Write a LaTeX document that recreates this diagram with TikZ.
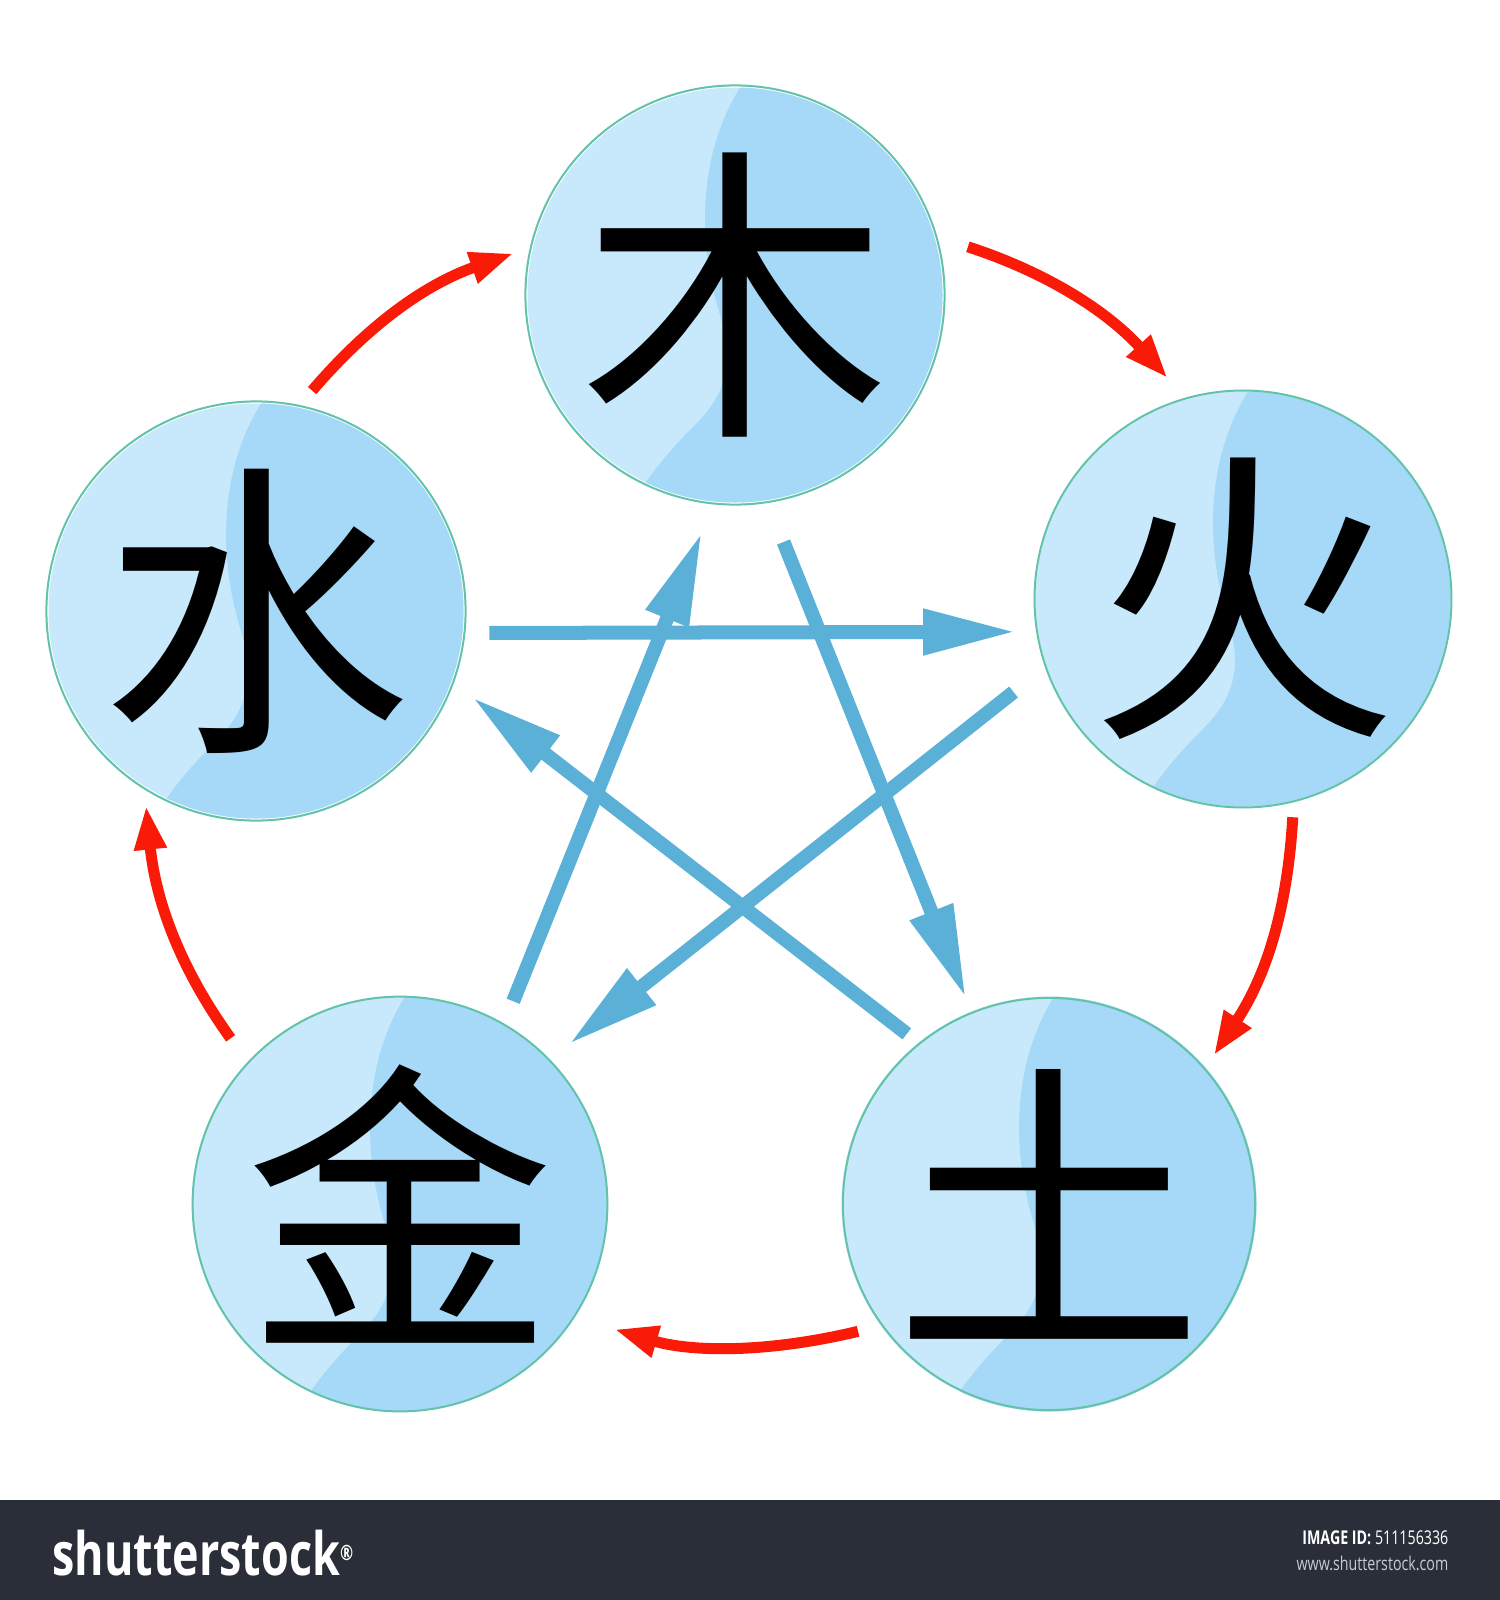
\documentclass[tikz,border=0pt]{standalone}
\usepackage{fontspec}
\newfontfamily\cjk{Noto Sans CJK SC}
\newfontfamily\logofont[FakeStretch=0.75]{Open Sans}
\usetikzlibrary{arrows.meta,backgrounds}
\definecolor{ballface}{RGB}{199,233,251}
\definecolor{ballshade}{RGB}{166,217,247}
\definecolor{ballrim}{RGB}{98,195,170}
\definecolor{feed}{RGB}{250,26,8}
\definecolor{curb}{RGB}{91,176,215}
\definecolor{footbar}{RGB}{41,46,57}
\definecolor{footgray}{RGB}{200,204,210}

\begin{document}
\begin{tikzpicture}[x=0.01cm,y=0.01cm,
  element/.style={circle,draw=ballrim,line width=0.02cm,minimum size=4.12cm,inner sep=0pt,font=\cjk\fontsize{88}{88}\selectfont},
  generate/.style={feed,line width=0.11cm,-{Triangle[length=0.44cm,width=0.3cm]},bend left=15},
  control/.style={curb,line width=0.14cm,-{Triangle[length=0.93cm,width=0.43cm]}}]
\useasboundingbox (0,0) rectangle (1500,-1600);
\node[element] (mu) at (735,-295) {木};
\node[element] (huo) at (1243,-599) {火};
\node[element] (tu) at (1049,-1204) {土};
\node[element] (jin) at (400,-1204) {金};
\node[element] (shui) at (256,-611) {水};
\begin{scope}[on background layer]
\fill[white] (0,0) rectangle (1500,-1600);
\foreach \n in {mu,huo,tu,jin,shui}{
  \fill[ballface] (\n) circle (207.5);
  \begin{scope}
  \clip (\n) circle (207.5);
  \fill[ballshade,shift={(\n)}] (10,215) .. controls (-35,150) and (-40,60) .. (-15,-20)
    .. controls (0,-70) and (-10,-100) .. (-40,-130)
    .. controls (-70,-160) and (-90,-185) .. (-110,-220) -- (220,-220) -- (220,220) -- cycle;
  \end{scope}
}
\end{scope}
% sheng cycle
\draw[generate,shorten <=0.32cm,shorten >=0.26cm] (mu.16) to (huo.106);
\draw[generate,shorten <=0.15cm,shorten >=0.15cm] (huo.-76) to (tu.41);
\draw[generate,shorten <=0.24cm,shorten >=0.41cm] (tu.216) to (jin.-33);
\draw[generate,shorten <=0.29cm,shorten >=0.16cm] (jin.137) to (shui.238);
\draw[generate,shorten <=0.19cm,shorten >=0.17cm] (shui.78) to (mu.167);
% ke cycle
\draw[control,shorten <=0.24cm,shorten >=0.20cm] (shui.-6.5) -- (huo.189.2);
\draw[control,shorten <=0.40cm,shorten >=0.24cm] (huo.199.7) -- (jin.44.5);
\draw[control,shorten <=0.24cm,shorten >=0.30cm] (jin.60.7) -- (mu.264);
\draw[control,shorten <=0.42cm,shorten >=0.15cm] (mu.-81.5) -- (tu.112.4);
\draw[control,shorten <=0.15cm,shorten >=0.23cm] (tu.129.3) -- (shui.-20.7);
% footer
\fill[footbar] (0,-1500) rectangle (1500,-1600);
\node[anchor=west,text=white,inner sep=0pt,font=\logofont\bfseries\fontsize{17}{17}\selectfont] (logo) at (52,-1553) {shutterstock{\fontsize{6}{6}\selectfont\raisebox{1.3ex}{®}}};
\node[anchor=east,text=white,inner sep=0pt,font=\logofont\fontsize{5.4}{6}\selectfont] (imgid) at (1449,-1538) {\textbf{IMAGE ID:} 511156336};
\node[anchor=east,text=footgray,inner sep=0pt,font=\logofont\fontsize{5.4}{6}\selectfont] (site) at (1449,-1563) {www.shutterstock.com};
\end{tikzpicture}
\end{document}
